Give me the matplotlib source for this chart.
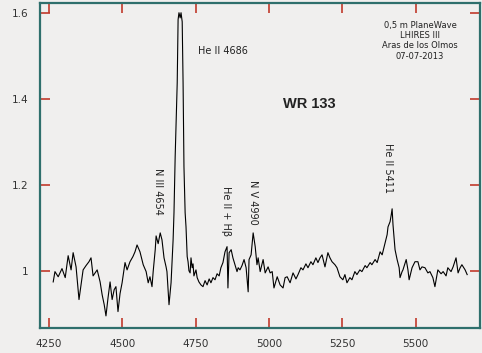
import numpy as np
import matplotlib.pyplot as plt

# espectro WR 133
longitud = [4264, 4270, 4281, 4294, 4305, 4315, 4325, 4332, 4342, 4352,
            4366, 4376, 4386, 4393, 4400, 4414, 4424, 4431, 4438, 4444,
            4451, 4458, 4465, 4472, 4478, 4485, 4492, 4499, 4509, 4516,
            4526, 4536, 4543, 4550, 4560, 4571, 4581, 4588, 4594, 4601,
            4605, 4612, 4615, 4622, 4629, 4635, 4642, 4649, 4652, 4659,
            4666, 4673, 4676, 4680, 4687, 4690, 4693, 4697, 4700, 4704,
            4707, 4710, 4714, 4717, 4721, 4724, 4727, 4731, 4734, 4738,
            4741, 4744, 4751, 4755, 4761, 4768, 4775, 4782, 4789, 4796,
            4802, 4809, 4816, 4823, 4830, 4836, 4843, 4850, 4857, 4860,
            4864, 4871, 4877, 4884, 4891, 4895, 4901, 4908, 4915, 4922,
            4929, 4932, 4939, 4946, 4953, 4959, 4963, 4970, 4980, 4987,
            4997, 5004, 5011, 5017, 5028, 5038, 5048, 5055, 5062, 5072,
            5082, 5092, 5099, 5109, 5116, 5126, 5133, 5143, 5150, 5160,
            5167, 5174, 5181, 5191, 5201, 5208, 5215, 5225, 5232, 5242,
            5252, 5259, 5266, 5276, 5283, 5293, 5300, 5310, 5317, 5328,
            5334, 5345, 5351, 5362, 5369, 5379, 5386, 5396, 5403, 5406,
            5413, 5417, 5420, 5423, 5427, 5430, 5437, 5444, 5447, 5454,
            5457, 5468, 5474, 5478, 5485, 5488, 5498, 5508, 5515, 5522,
            5532, 5542, 5549, 5559, 5566, 5573, 5576, 5587, 5594, 5604,
            5610, 5621, 5628, 5638, 5645, 5652, 5658, 5669, 5676]
flujo = [0.974, 0.998, 0.986, 1.005, 0.984, 1.035, 1.002, 1.042, 1.009, 0.933,
         1.002, 1.012, 1.021, 1.030, 0.988, 1.002, 0.974, 0.944, 0.921, 0.895,
         0.937, 0.974, 0.933, 0.956, 0.963, 0.905, 0.947, 0.972, 1.019, 1.002,
         1.021, 1.033, 1.044, 1.060, 1.044, 1.014, 0.998, 0.972, 0.986, 0.963,
         0.998, 1.049, 1.081, 1.063, 1.088, 1.072, 1.030, 1.009, 0.998, 0.921,
         0.972, 1.072, 1.135, 1.265, 1.437, 1.584, 1.600, 1.588, 1.600, 1.579,
         1.437, 1.242, 1.135, 1.102, 1.033, 1.021, 1.000, 0.995, 1.030, 1.007,
         1.016, 0.988, 1.002, 0.984, 0.974, 0.967, 0.963, 0.977, 0.967, 0.981,
         0.972, 0.984, 0.979, 0.993, 0.988, 1.007, 1.019, 1.044, 1.056, 0.960,
         1.042, 1.049, 1.030, 1.014, 0.998, 1.007, 1.002, 1.012, 1.026, 1.007,
         0.951, 1.026, 1.037, 1.088, 1.056, 1.014, 1.030, 0.998, 1.026, 0.995,
         1.009, 0.995, 0.998, 0.960, 0.986, 0.967, 0.960, 0.984, 0.986, 0.972,
         0.995, 0.981, 0.991, 1.007, 1.002, 1.016, 1.007, 1.021, 1.014, 1.030,
         1.019, 1.030, 1.037, 1.009, 1.042, 1.030, 1.021, 1.014, 1.007, 0.986,
         0.979, 0.991, 0.972, 0.984, 0.979, 0.998, 0.991, 1.002, 0.998, 1.012,
         1.007, 1.019, 1.014, 1.026, 1.019, 1.044, 1.037, 1.065, 1.084, 1.102,
         1.114, 1.130, 1.144, 1.107, 1.072, 1.049, 1.026, 1.007, 0.984, 0.998,
         1.002, 1.026, 1.002, 0.979, 0.998, 1.007, 1.021, 1.021, 1.002, 1.009,
         1.007, 0.995, 0.998, 0.984, 0.963, 0.991, 1.002, 0.993, 0.998, 0.988,
         1.007, 0.998, 1.009, 1.030, 0.995, 1.007, 1.014, 1.002, 0.991]

xticks = [4250, 4500, 4750, 5000, 5250, 5500]
yticks = [1.0, 1.2, 1.4, 1.6]
ytick_labels = ['1', '1.2', '1.4', '1.6']

# lineas identificadas: (texto, lambda, flujo donde empieza el texto)
lineas = [('N III 4654', 4621, 1.240),
          ('He II + H\u03b2', 4855, 1.197),
          ('N V 4990', 4945, 1.212),
          ('He II 5411', 5405, 1.298)]

fondo = '#f0efee'
teal = '#2f6f6c'
rojo = '#c0392b'

fig = plt.figure(figsize=(4.82, 3.53), dpi=100, facecolor=fondo)
ax = fig.add_axes([0.083, 0.071, 0.913, 0.921], facecolor=fondo)

ax.plot(longitud, flujo, color='black', lw=0.8)

ax.set_xlim(4219, 5720)
ax.set_ylim(0.867, 1.623)
ax.set_xticks(xticks)
ax.set_yticks(yticks)
ax.set_yticklabels(ytick_labels)
ax.tick_params(direction='in', length=7, width=1.2, color=rojo,
               top=True, right=True, labelsize=7.5, labelcolor='#333333', pad=8)

for s in ax.spines.values():
    s.set_color(teal)
    s.set_linewidth(1.6)

ax.text(4758, 1.51, 'He II 4686', fontsize=7, color='#222222', va='center')
ax.text(5137, 1.388, 'WR 133', fontsize=10.5, fontweight='bold', color='#222222',
        family='Liberation Sans', ha='center', va='center')
ax.text(5515, 1.535, '0,5 m PlaneWave\nLHIRES III\nAras de los Olmos\n07-07-2013',
        fontsize=6, color='#222222', ha='center', va='center', linespacing=1.2)

for texto, lam, fl in lineas:
    ax.text(lam, fl, texto, fontsize=7, color='#222222', rotation=270,
            ha='center', va='top')

fig.savefig('out.png', dpi=100, facecolor=fondo)
